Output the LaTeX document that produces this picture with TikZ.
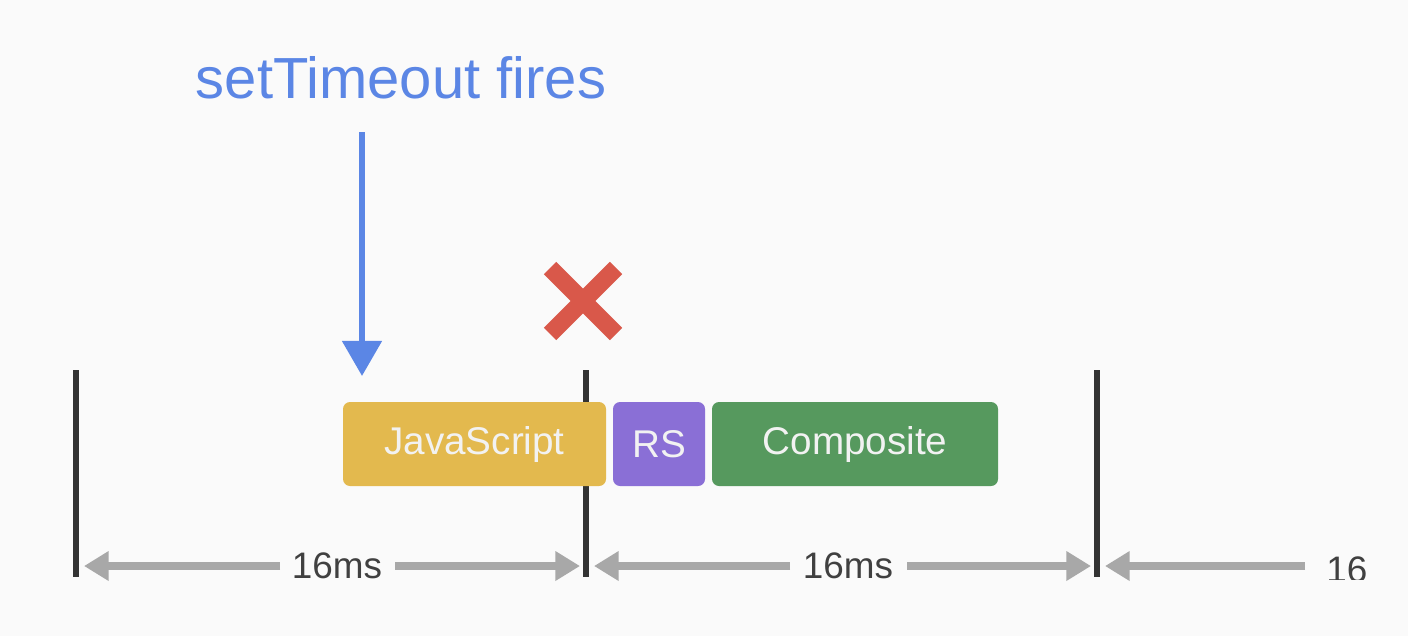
\documentclass[tikz,border=0pt]{standalone}
\usepackage{fontspec}
\setmainfont{Liberation Sans}
\usetikzlibrary{arrows.meta}
\definecolor{jsyellow}{HTML}{E3B94E}
\definecolor{rspurple}{HTML}{8A6FD6}
\definecolor{compgreen}{HTML}{56995E}
\definecolor{fireblue}{HTML}{5B86E5}
\definecolor{crossred}{HTML}{D9584A}
\definecolor{dimgrey}{HTML}{A8A8A8}
\definecolor{bargrey}{HTML}{333333}
\tikzset{
  task/.style={rounded corners=4pt,inner sep=0pt,text=white!95!black,font=\fontsize{22}{22}\selectfont},
  frame/.style={bargrey,line width=3pt},
  span/.style={dimgrey,line width=4pt,-{Triangle[length=14pt,width=16pt]}},
  spanlabel/.style={text=black!75,font=\fontsize{21}{21}\selectfont,inner sep=0pt}
}
\begin{document}
\begin{tikzpicture}[x=0.02cm,y=-0.02cm]
    \fill[white!98!black] (0,0) rectangle (1408,636);
    % title and arrow
    \node[text=fireblue,font=\fontsize{33}{33}\selectfont] (fires) at (401,78) {setTimeout fires};
    \coordinate (top) at (362,132);
    \coordinate (tip) at (362,376);
    \draw[fireblue,line width=3.5pt,-{Triangle[length=20pt,width=22pt]}] (top) -- (tip);
    % cross
    \draw[crossred,line width=10pt] (550,268) -- (616,334) (616,268) -- (550,334);
    % frame bars
    \foreach \x/\n in {76/a,586/b,1097/c} {
        \coordinate (\n top) at (\x,370);
        \coordinate (\n bot) at (\x,577);
        \draw[frame] (\n top) -- (\n bot);
    }
    % tasks
    \node[task,fill=jsyellow,minimum width=263*0.02cm,minimum height=84*0.02cm] (js) at (474.5,444) {JavaScript};
    \node[task,fill=rspurple,minimum width=92*0.02cm,minimum height=84*0.02cm] (rs) at (659,444) {RS};
    \node[task,fill=compgreen,minimum width=286*0.02cm,minimum height=84*0.02cm] (comp) at (855,444) {Composite};
    % spans
    \node[spanlabel] (ms1) at (337,566) {16ms};
    \node[spanlabel] (ms2) at (848,566) {16ms};
    \node[spanlabel,anchor=west] (ms3) at (1326,570) {16};
    \coordinate (l1) at (84,566);  \coordinate (r1) at (580,566);
    \coordinate (l2) at (594,566); \coordinate (r2) at (1091,566);
    \coordinate (l3) at (1105,566);
    \draw[span] (280,566) -- (l1);
    \draw[span] (395,566) -- (r1);
    \draw[span] (790,566) -- (l2);
    \draw[span] (907,566) -- (r2);
    \draw[span] (1305,566) -- (l3);
    \fill[white!98!black] (1300,580) rectangle (1408,636);
\end{tikzpicture}
\end{document}
